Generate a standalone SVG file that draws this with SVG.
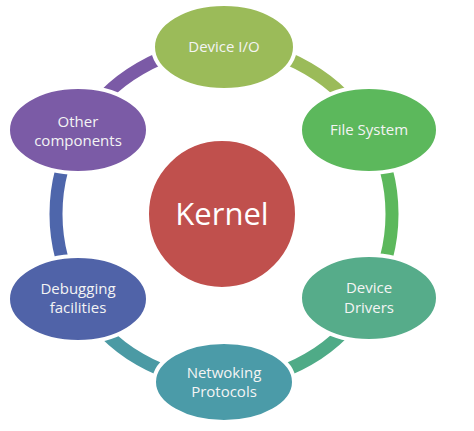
<svg xmlns="http://www.w3.org/2000/svg" width="474" height="431" viewBox="0 0 474 431">
<style>
.ring{fill:none;stroke-width:13}
.node{stroke:#ffffff;stroke-width:4}
.lbl{font-family:"Open Sans","Liberation Sans",sans-serif;font-size:15px;fill:#f4f4f4;text-anchor:middle}
.big{font-family:"Open Sans","Liberation Sans",sans-serif;font-size:31px;fill:#ffffff;text-anchor:middle}
</style>
<rect width="474" height="431" fill="#ffffff"/>
<g id="connectors">
<path class="ring" stroke="#9bbb59" d="M224,46 A168,168 0 0 1 369.5,130"/>
<path class="ring" stroke="#5cb85c" d="M369.5,130 A168,168 0 0 1 369.5,298"/>
<path class="ring" stroke="#4fab87" d="M369.5,298 A168,168 0 0 1 224,382"/>
<path class="ring" stroke="#4b9aa4" d="M224,382 A168,168 0 0 1 78.5,298"/>
<path class="ring" stroke="#4e66ab" d="M78.5,298 A168,168 0 0 1 78.5,130"/>
<path class="ring" stroke="#7b5aa6" d="M78.5,130 A168,168 0 0 1 224,46"/>
</g>
<g id="kernel">
<circle cx="222" cy="214" r="75" fill="#c0504d" class="node"/>
<text class="big" x="222" y="225">Kernel</text>
</g>
<g id="device-io">
<ellipse cx="224" cy="47" rx="71" ry="43" fill="#9bbb59" class="node"/>
<text class="lbl" x="224" y="52">Device I/O</text>
</g>
<g id="file-system">
<ellipse cx="369" cy="130" rx="69" ry="43" fill="#5cb85c" class="node"/>
<text class="lbl" x="369" y="135">File System</text>
</g>
<g id="device-drivers">
<ellipse cx="369" cy="298" rx="69" ry="43" fill="#56ac8a" class="node"/>
<text class="lbl" x="369" y="293">Device</text>
<text class="lbl" x="369" y="313">Drivers</text>
</g>
<g id="networking-protocols">
<ellipse cx="224" cy="382" rx="70" ry="40" fill="#4b9ba8" class="node"/>
<text class="lbl" x="224" y="378">Netwoking</text>
<text class="lbl" x="224" y="397">Protocols</text>
</g>
<g id="debugging-facilities">
<ellipse cx="78" cy="299" rx="70" ry="43" fill="#5063a8" class="node"/>
<text class="lbl" x="78" y="294">Debugging</text>
<text class="lbl" x="78" y="313">facilities</text>
</g>
<g id="other-components">
<ellipse cx="78" cy="130" rx="70" ry="43" fill="#7b5ba6" class="node"/>
<text class="lbl" x="78" y="127">Other</text>
<text class="lbl" x="78" y="146">components</text>
</g>
</svg>
